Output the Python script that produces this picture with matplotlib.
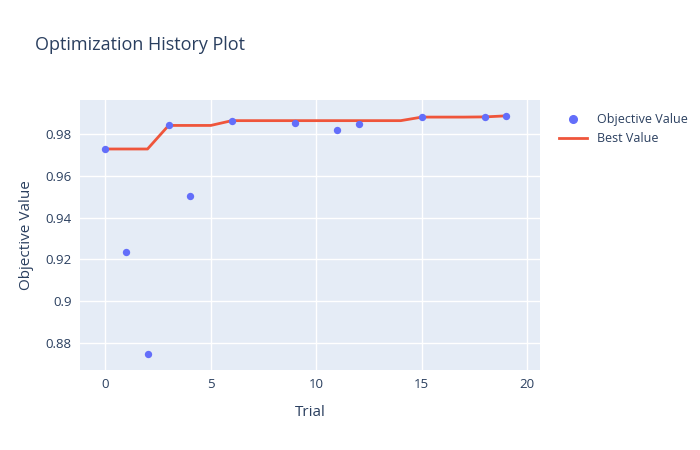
import numpy as np
import matplotlib
matplotlib.use("Agg")
import matplotlib.pyplot as plt
from matplotlib.lines import Line2D

# completed trials and their objective values
trials = [0, 1, 2, 3, 4, 6, 9, 11, 12, 15, 18, 19]
objective = [0.9730, 0.9235, 0.8748, 0.9843, 0.9503, 0.9866,
             0.9853, 0.9822, 0.9852, 0.9883, 0.9884, 0.9889]

# best value so far at every trial index
best_x = list(range(20))
best_y = [0.9730, 0.9730, 0.9730, 0.9843, 0.9843, 0.9843,
          0.9866, 0.9866, 0.9866, 0.9866, 0.9866, 0.9866,
          0.9866, 0.9866, 0.9866, 0.9883, 0.9883, 0.9883,
          0.9884, 0.9889]

yticks = [0.88, 0.90, 0.92, 0.94, 0.96, 0.98]
ytick_labels = ["0.88", "0.9", "0.92", "0.94", "0.96", "0.98"]

plt.rcParams["font.family"] = ["Open Sans", "DejaVu Sans"]
txt = "#2a3f5f"

fig = plt.figure(figsize=(7, 4.5), dpi=100)
ax = fig.add_axes([80 / 700, 80 / 450, 460 / 700, 270 / 450])
ax.set_facecolor("#e5ecf6")
for s in ax.spines.values():
    s.set_visible(False)
ax.grid(True, color="white", linewidth=1)
ax.set_axisbelow(True)

ax.plot(best_x, best_y, color="#ef553b", linewidth=2, zorder=2)
ax.scatter(trials, objective, color="#636efa", s=28, zorder=3, linewidths=0)

ax.set_xlim(-1.2, 20.6)
ax.set_ylim(0.867, 0.9965)
ax.set_xticks([0, 5, 10, 15, 20])
ax.set_yticks(yticks)
ax.set_yticklabels(ytick_labels)
ax.tick_params(length=0, labelsize=9.5, colors=txt, pad=6)
ax.set_xlabel("Trial", fontsize=11, color=txt, labelpad=10)
ax.set_ylabel("Objective Value", fontsize=11, color=txt, labelpad=8)

fig.text(35 / 700, 1 - 45 / 450, "Optimization History Plot", fontsize=13,
         color=txt, va="center")

handles = [
    Line2D([], [], marker="o", linestyle="none", color="#636efa", markersize=5.5),
    Line2D([], [], color="#ef553b", linewidth=2),
]
fig.legend(handles, ["Objective Value", "Best Value"], loc="upper left",
           bbox_to_anchor=(548 / 700, 1 - 102 / 450), frameon=False,
           fontsize=9, labelcolor=txt, handlelength=2.2)

fig.savefig("out.png", dpi=100)
